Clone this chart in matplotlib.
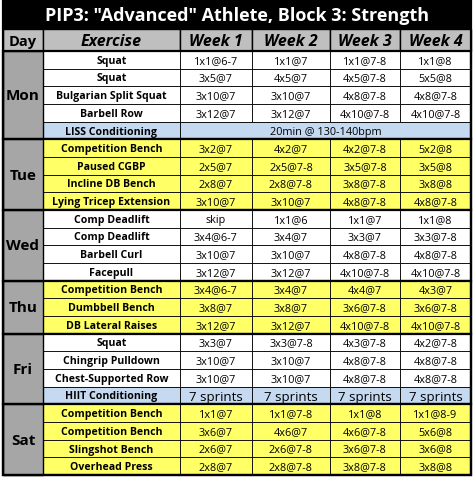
import matplotlib
matplotlib.use("Agg")
import matplotlib.pyplot as plt
from matplotlib.patches import Rectangle

title = 'PIP3: "Advanced" Athlete, Block 3: Strength'
headers = ["Day", "Exercise", "Week 1", "Week 2", "Week 3", "Week 4"]
days = ["Mon", "Tue", "Wed", "Thu", "Fri", "Sat"]
day_colors = ["white", "yellow", "white", "yellow", "white", "yellow"]
exercises = [
    ["Squat", "Squat", "Bulgarian Split Squat", "Barbell Row", "LISS Conditioning"],
    ["Competition Bench", "Paused CGBP", "Incline DB Bench", "Lying Tricep Extension"],
    ["Comp Deadlift", "Comp Deadlift", "Barbell Curl", "Facepull"],
    ["Competition Bench", "Dumbbell Bench", "DB Lateral Raises"],
    ["Squat", "Chingrip Pulldown", "Chest-Supported Row", "HIIT Conditioning"],
    ["Competition Bench", "Competition Bench", "Slingshot Bench", "Overhead Press"],
]
prescriptions = [
    [["1x1@6-7", "1x1@7", "1x1@7-8", "1x1@8"],
     ["3x5@7", "4x5@7", "4x5@7-8", "5x5@8"],
     ["3x10@7", "3x10@7", "4x8@7-8", "4x8@7-8"],
     ["3x12@7", "3x12@7", "4x10@7-8", "4x10@7-8"],
     ["20min @ 130-140bpm"]],
    [["3x2@7", "4x2@7", "4x2@7-8", "5x2@8"],
     ["2x5@7", "2x5@7-8", "3x5@7-8", "3x5@8"],
     ["2x8@7", "2x8@7-8", "3x8@7-8", "3x8@8"],
     ["3x10@7", "3x10@7", "4x8@7-8", "4x8@7-8"]],
    [["skip", "1x1@6", "1x1@7", "1x1@8"],
     ["3x4@6-7", "3x4@7", "3x3@7", "3x3@7-8"],
     ["3x10@7", "3x10@7", "4x8@7-8", "4x8@7-8"],
     ["3x12@7", "3x12@7", "4x10@7-8", "4x10@7-8"]],
    [["3x4@6-7", "3x4@7", "4x4@7", "4x3@7"],
     ["3x8@7", "3x8@7", "3x6@7-8", "3x6@7-8"],
     ["3x12@7", "3x12@7", "4x10@7-8", "4x10@7-8"]],
    [["3x3@7", "3x3@7-8", "4x3@7-8", "4x2@7-8"],
     ["3x10@7", "3x10@7", "4x8@7-8", "4x8@7-8"],
     ["3x10@7", "3x10@7", "4x8@7-8", "4x8@7-8"],
     ["7 sprints", "7 sprints", "7 sprints", "7 sprints"]],
    [["1x1@7", "1x1@7-8", "1x1@8", "1x1@8-9"],
     ["3x6@7", "4x6@7", "4x6@7-8", "5x6@8"],
     ["2x6@7", "2x6@7-8", "3x6@7-8", "3x6@8"],
     ["2x8@7", "2x8@7-8", "3x8@7-8", "3x8@8"]],
]

W, H = 474, 481
fig = plt.figure(figsize=(W/100, H/100), dpi=100)
ax = fig.add_axes([0, 0, 1, 1])
ax.set_xlim(0, W); ax.set_ylim(H, 0); ax.axis("off")
fig.patch.set_facecolor("white")

FONT = "Open Sans"
cols = [3, 43, 180, 252, 330, 400, 471]
y_title, y_head, y0, y_end = 0, 30, 52, 476
nrows = sum(len(e) for e in exercises)
rh = (y_end - y0) / nrows
YEL = "#ffff66"; BLUE = "#c5d9f1"; GREY = "#a6a6a6"; HGREY = "#bfbfbf"

def rect(x0, y0_, x1, y1, fc, lw=0.6, ec="black"):
    ax.add_patch(Rectangle((x0, y0_), x1 - x0, y1 - y0_, fc=fc, ec=ec, lw=lw))

rect(cols[0], y_title, cols[-1], y_head, "black")
ax.text((cols[0]+cols[-1])/2, 16, title, color="white", ha="center", va="center",
        fontsize=13, fontweight="bold", family=FONT)
for i, h in enumerate(headers):
    rect(cols[i], y_head, cols[i+1], y0, HGREY, lw=1.0)
    ax.text((cols[i]+cols[i+1])/2, (y_head+y0)/2 + 1, h, ha="center", va="center",
            fontsize=11.5 if i else 10.5, fontweight="bold",
            style="italic" if i else "normal", family=FONT)

y = y0
for d, day in enumerate(days):
    gy0 = y
    for r, ex in enumerate(exercises[d]):
        vals = prescriptions[d][r]
        cond = "Conditioning" in ex
        fc = BLUE if cond else (YEL if day_colors[d] == "yellow" else "white")
        rect(cols[1], y, cols[2], y + rh, fc)
        ax.text((cols[1]+cols[2])/2, y + rh/2 + 0.5, ex, ha="center", va="center",
                fontsize=7.6, fontweight="bold", family=FONT)
        if len(vals) == 1:
            rect(cols[2], y, cols[6], y + rh, fc)
            ax.text((cols[2]+cols[6])/2, y + rh/2 + 0.5, vals[0], ha="center",
                    va="center", fontsize=7.8, family=FONT)
        else:
            for k, v in enumerate(vals):
                rect(cols[2+k], y, cols[3+k], y + rh, fc)
                ax.text((cols[2+k]+cols[3+k])/2, y + rh/2 + 0.5, v, ha="center",
                        va="center", fontsize=9.5 if cond else 7.8, family=FONT)
        y += rh
    rect(cols[0], gy0, cols[1], y, GREY, lw=1.0)
    ax.text((cols[0]+cols[1])/2, (gy0+y)/2, day, ha="center", va="center",
            fontsize=11, fontweight="bold", family=FONT)
    rect(cols[0], gy0, cols[-1], y, "none", lw=1.6)

rect(cols[0], y_title, cols[-1], y_end, "none", lw=1.6)
fig.savefig("out.png", dpi=100)
